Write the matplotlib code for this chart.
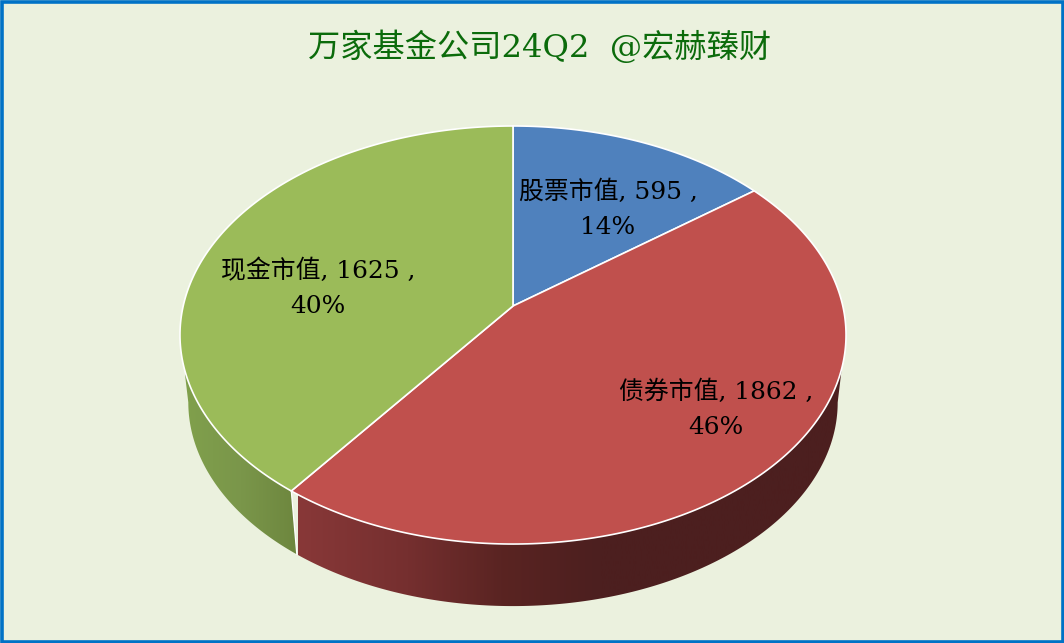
import numpy as np
import matplotlib
matplotlib.use('Agg')
import matplotlib.pyplot as plt
from matplotlib.patches import Polygon, Rectangle
from matplotlib.colors import LinearSegmentedColormap

plt.rcParams['font.family'] = ['DejaVu Serif', 'Noto Sans CJK SC']

# Datos
title = '万家基金公司24Q2  @宏赫臻财'
names = ['股票市值', '债券市值', '现金市值']
values = [595, 1862, 1625]
percents = [14, 46, 40]
colors = ['#4F81BD', '#C0504D', '#9BBB59']

W, H = 1064, 643
fig = plt.figure(figsize=(W / 100, H / 100), dpi=100, facecolor='#EBF1DE')
ax = fig.add_axes([0, 0, 1, 1])
ax.axis('off')

# Perspectiva del disco: el vértice no coincide con el centro de la elipse
CX, TOP_Y, BOTTOM_Y = 513, 306, 374
A, B, K, S = 329.8, 205.0, 0.1388, 0.975


def rim(theta, cy=TOP_Y, scale=1.0):
    u, v = np.sin(theta), np.cos(theta)
    d = 1 + K * v
    return np.column_stack([CX + scale * A * u / d, cy - scale * B * v / d])


def arc(t0, t1, **kw):
    n = max(int(abs(t1 - t0) * 80), 2)
    return rim(np.linspace(t0, t1, n), **kw)


def wall(t0, t1, b0, b1, cols, x0, x1):
    # pared lateral con degradado horizontal
    pts = np.vstack([arc(t0, t1), arc(b1, b0, cy=BOTTOM_Y, scale=S)])
    cmap = LinearSegmentedColormap.from_list('w', cols)
    poly = Polygon(pts, closed=True, fc='none', ec='none', transform=ax.transData)
    ax.add_patch(poly)
    grad = np.linspace(0, 1, 256).reshape(1, -1)
    im = ax.imshow(grad, cmap=cmap, extent=[x0, x1, H, 0], aspect='auto', zorder=2)
    im.set_clip_path(poly)


edges = np.cumsum([0] + values) / sum(values) * 2 * np.pi

# Paredes laterales (sólo rojo y verde son visibles)
wall(np.radians(107), edges[2], np.radians(98), edges[2],
     [(0, '#883838'), (0.2, '#752F2F'), (0.37, '#5A2422'), (0.55, '#4C1F1F'), (1, '#4C1F1F')], 298, 846)
wall(edges[2], np.radians(253), edges[2], np.radians(262),
     ['#80A04C', '#7A964A', '#6D863E'], 185, 298)

# Arista blanca entre las dos paredes
seam = np.vstack([rim(np.array([edges[2]])), rim(np.array([edges[2]]), cy=BOTTOM_Y, scale=S)])
ax.plot(seam[:, 0], seam[:, 1], color='white', lw=0.9, zorder=3)

# Cara superior
for i, c in enumerate(colors):
    pts = np.vstack([[CX, TOP_Y], arc(edges[i], edges[i + 1])])
    ax.add_patch(Polygon(pts, closed=True, fc=c, ec='white', lw=1.2, zorder=4, joinstyle='round'))

# Etiquetas
label_pos = [(608, 209), (716, 409), (318, 288)]
for name, val, pct, (x, y) in zip(names, values, percents, label_pos):
    ax.text(x, y, f'{name}, {val} ,\n{pct}%', ha='center', va='center', fontsize=17.9,
            color='black', linespacing=1.65, zorder=5)

ax.text(540, 47, title, ha='center', va='center', fontsize=23.2, color='#0B6B0B', zorder=5)

# Marco
ax.add_patch(Rectangle((1.5, 1.5), W - 3, H - 3, fc='none', ec='#0072C6', lw=2.6, zorder=6,
                       joinstyle='miter'))

ax.set_xlim(0, W)
ax.set_ylim(H, 0)
fig.savefig('out.png', dpi=100, facecolor=fig.get_facecolor())
